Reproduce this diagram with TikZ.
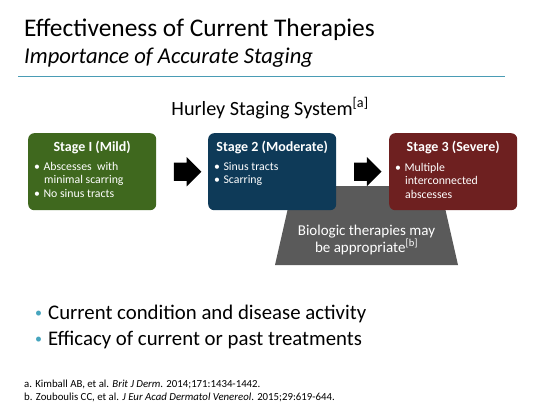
\documentclass[tikz,border=0pt]{standalone}
\usepackage{fontspec}
\setmainfont{Carlito}
\usetikzlibrary{shapes.arrows,calc}
\definecolor{stgreen}{RGB}{63,104,30}
\definecolor{stblue}{RGB}{14,58,88}
\definecolor{stred}{RGB}{110,32,32}
\definecolor{trapgray}{RGB}{90,90,90}
\definecolor{rule}{RGB}{74,156,181}
\definecolor{bul}{RGB}{70,165,190}
\tikzset{
  stagebox/.style={draw=none, fill=#1, rounded corners=6pt, minimum width=128pt, minimum height=77pt, inner sep=0pt},
  stagetitle/.style={text=white, font=\fontsize{14}{16}\selectfont\bfseries, anchor=base},
  stagebul/.style={text=white, font=\fontsize{11.8}{13.7}\selectfont, anchor=base west, align=left, inner sep=0pt},
  blockarrow/.style={single arrow, fill=black, draw=none, minimum height=27.4pt, minimum width=29pt, single arrow head extend=5.5pt, inner xsep=0pt, inner ysep=9pt},
  bigbul/.style={anchor=base west, inner sep=0pt, font=\fontsize{20.8}{25}\selectfont, align=left},
  refline/.style={anchor=base west, inner sep=0pt, font=\fontsize{10.8}{12}\selectfont},
}
\newcommand{\smbul}{\textcolor{bul}{\raisebox{1.5pt}{\fontsize{14}{14}\selectfont\textbullet}}}
\begin{document}
\begin{tikzpicture}[x=1pt,y=-1pt]
\path[use as bounding box, fill=white] (0,0) rectangle (540,405);
% title
\node[anchor=base west, inner sep=0pt, font=\fontsize{25.4}{28}\selectfont] (title) at (24,36) {Effectiveness of Current Therapies};
\node[anchor=base west, inner sep=0pt, font=\fontsize{22.6}{24}\selectfont\itshape] (subtitle) at (24,63) {Importance of Accurate Staging};
\coordinate (rl) at (18,76);
\coordinate (rr) at (505,76);
\draw[rule, line width=1pt] (rl) -- (rr);
% Hurley
\node[anchor=base, inner sep=0pt, font=\fontsize{20.2}{22}\selectfont] (hurley) at (270,115) {Hurley Staging System\textsuperscript{[a]}};
% trapezoid
\coordinate (t1) at (293,186);
\coordinate (t2) at (440,186);
\coordinate (t3) at (458,265);
\coordinate (t4) at (275,265);
\fill[trapgray] (t1) -- (t2) -- (t3) -- (t4) -- cycle;
\node[text=white, anchor=base, font=\fontsize{15}{17}\selectfont, inner sep=0pt] (bio1) at (366.5,235) {Biologic therapies may};
\node[text=white, anchor=base, font=\fontsize{15}{17}\selectfont, inner sep=0pt] (bio2) at (366.5,252) {be appropriate\textsuperscript{[b]}};
% boxes
\node[stagebox=stgreen, anchor=north west] (s1) at (28,133) {};
\node[stagebox=stblue, anchor=north west] (s2) at (208,133) {};
\node[stagebox=stred, anchor=north west] (s3) at (389,133) {};
\node[stagetitle] (s1t) at ([yshift=-18.7pt]s1.north) {Stage I (Mild)};
\node[stagetitle] (s2t) at ([yshift=-18.7pt]s2.north) {Stage 2 (Moderate)};
\node[stagetitle] (s3t) at ([yshift=-18.7pt]s3.north) {Stage 3 (Severe)};
\node[stagebul] (s1b) at ([xshift=6pt,yshift=-37pt]s1.north west) {\textbullet\hspace{3.5pt}Abscesses\ \ with};
\node[stagebul] (s1c) at ([xshift=16pt,yshift=-50.7pt]s1.north west) {minimal scarring};
\node[stagebul] (s1d) at ([xshift=6pt,yshift=-64.4pt]s1.north west) {\textbullet\hspace{3.5pt}No sinus tracts};
\node[stagebul] (s2b) at ([xshift=6pt,yshift=-37pt]s2.north west) {\textbullet\hspace{3.5pt}Sinus tracts};
\node[stagebul] (s2c) at ([xshift=6pt,yshift=-50.7pt]s2.north west) {\textbullet\hspace{3.5pt}Scarring};
\node[stagebul] (s3b) at ([xshift=6pt,yshift=-38pt]s3.north west) {\textbullet\hspace{3.5pt}Multiple};
\node[stagebul] (s3c) at ([xshift=16pt,yshift=-51.7pt]s3.north west) {interconnected};
\node[stagebul] (s3d) at ([xshift=16pt,yshift=-65.4pt]s3.north west) {abscesses};
% arrows
\node[blockarrow] (a1) at ($(s1.east)!0.5!(s2.west)+(0.8,0)$) {};
\node[blockarrow] (a2) at ($(s2.east)!0.5!(s3.west)+(0.5,0)$) {};
% bullets
\node[bigbul] (b1) at (35,319) {\smbul\hspace{6pt}Current condition and disease activity};
\node[bigbul] (b2) at (35,345) {\smbul\hspace{6pt}Efficacy of current or past treatments};
% refs
\node[refline] (r1) at (24,387) {a. Kimball AB, et al. \textit{Brit J Derm}. 2014;171:1434-1442.};
\node[refline] (r2) at (24,400.5) {b. Zouboulis CC, et al. \textit{J Eur Acad Dermatol Venereol}. 2015;29:619-644.};
\end{tikzpicture}
\end{document}
